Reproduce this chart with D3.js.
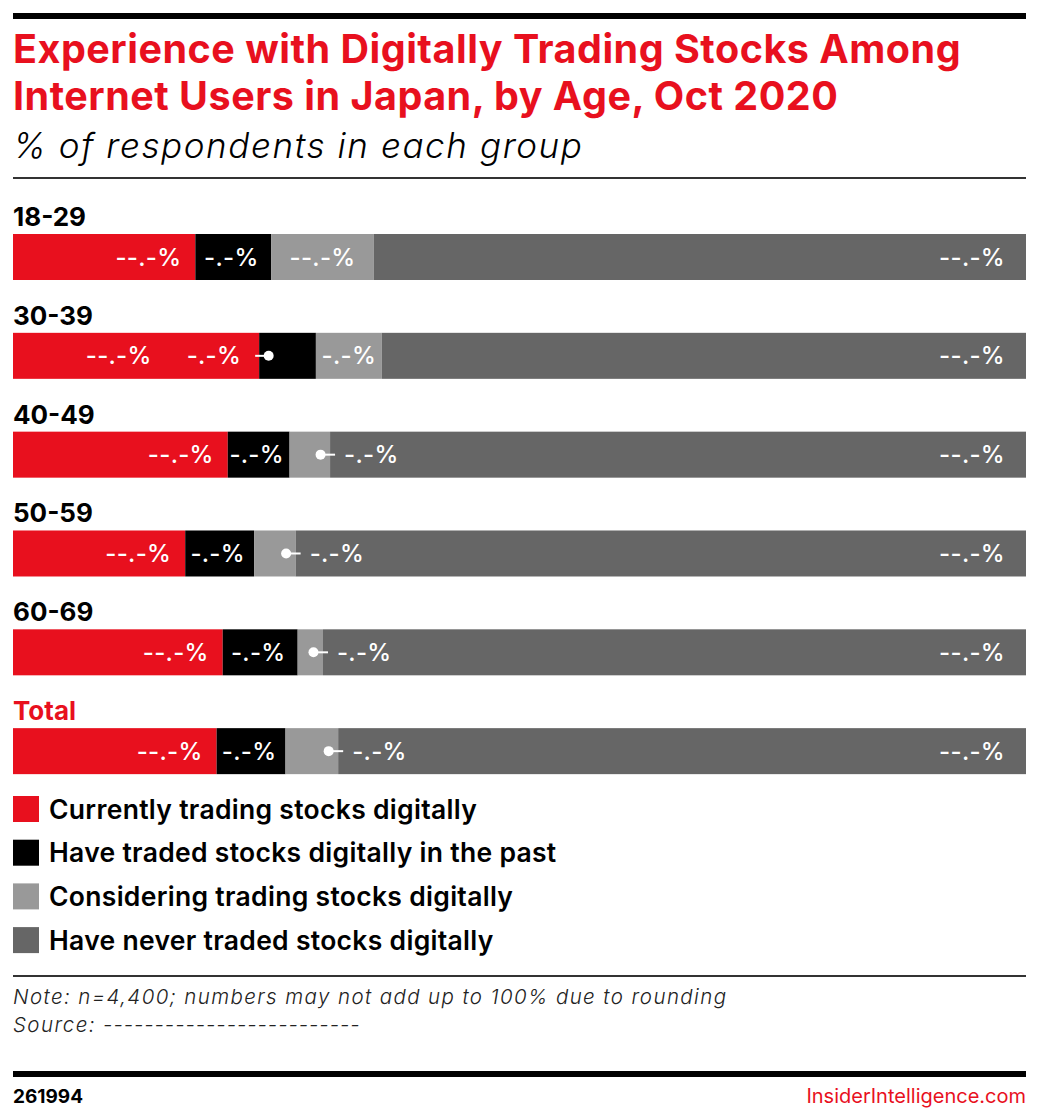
<!DOCTYPE html>
<html><head><meta charset="utf-8">
<script src="https://cdn.jsdelivr.net/npm/d3@7"></script>
<style>
html,body{margin:0;padding:0;background:#fff;}
svg{display:block;font-family:Inter, "Noto Sans", sans-serif;}
</style></head>
<body><svg id="c" width="1040" height="1120"></svg>
<script>
const categories = ["18-29","30-39","40-49","50-59","60-69","Total"];
const seriesNames = ["Currently trading stocks digitally","Have traded stocks digitally in the past","Considering trading stocks digitally","Have never traded stocks digitally"];
const current = [18.0, 24.3, 21.2, 17.0, 20.7, 20.1];
const past = [7.5, 5.6, 6.1, 6.8, 7.4, 6.8];
const considering = [10.1, 6.5, 4.0, 4.1, 2.5, 5.2];
const never = [64.4, 63.6, 68.7, 72.1, 69.4, 67.9];
const title = ["Experience with Digitally Trading Stocks Among","Internet Users in Japan, by Age, Oct 2020"];
const subtitle = "% of respondents in each group";
const note = "Note: n=4,400; numbers may not add up to 100% due to rounding";
const sourceLabel = "Source:";
const sourceText = "-------------------------";
const chartId = "261994";
const brand = "InsiderIntelligence.com";

const colors = ["#e8101e","#000000","#999999","#666666"];
const RED = "#e8101e";
const svg = d3.select("#c");
const L = 13, R = 1026;

// header
svg.append("rect").attr("x",L).attr("y",13).attr("width",R-L).attr("height",6).attr("fill","#000");
svg.selectAll("text.title").data(title).join("text").attr("class","title")
  .attr("x",L).attr("y",(d,i)=>63+i*47).attr("fill",RED)
  .attr("font-size",39.5).attr("font-weight",700).attr("letter-spacing",0.5).text(d=>d);
svg.append("text").attr("x",L).attr("y",158).attr("font-size",35).attr("font-style","italic")
  .attr("font-weight",300).attr("letter-spacing",1.6).attr("fill","#000").text(subtitle);
svg.append("rect").attr("x",L).attr("y",177).attr("width",R-L).attr("height",2).attr("fill","#333");

// data table
const rows = categories.map((c,i)=>({cat:c, vals:[current[i],past[i],considering[i],never[i]]}));
const x = d3.scaleLinear().domain([0,100]).range([L,R]);
const y = d3.scaleBand().domain(categories).range([186,186+98.83*6]).paddingInner(0);
const barOff = 48, barH = 46;

const g = svg.append("g");
const fmt = v => v >= 10 ? "--.-%" : "-.-%";
const LABEL_SIZE = 24;
const MIN_W = 58;

rows.forEach(r=>{
  const top = y(r.cat)+barOff, cy = top+barH/2;
  g.append("text").attr("x",L).attr("y",top-8).attr("font-size",26).attr("font-weight",700)
    .attr("fill", r.cat==="Total"?RED:"#000").text(r.cat);
  let acc = 0;
  const segs = r.vals.map((v,k)=>{const s={k,v,x0:x(acc),x1:x(acc+v)}; acc+=v; return s;});
  g.selectAll(null).data(segs).join("rect")
    .attr("x",d=>d.x0).attr("y",top).attr("width",d=>d.x1-d.x0).attr("height",barH)
    .attr("fill",d=>colors[d.k]);
  const lab = (xx,anchor,txt)=>g.append("text").attr("x",xx).attr("y",cy).attr("dy","0.36em")
    .attr("text-anchor",anchor).attr("font-size",LABEL_SIZE).attr("font-weight",500)
    .attr("letter-spacing",0.3).attr("fill","#fff").text(txt);
  const callout = (dotX, lineX)=>{
    g.append("line").attr("x1",dotX).attr("x2",lineX).attr("y1",cy).attr("y2",cy)
      .attr("stroke","#fff").attr("stroke-width",2);
    g.append("circle").attr("cx",dotX).attr("cy",cy).attr("r",5).attr("fill","#fff");
  };
  const [sr,sb,sl,sd] = segs;
  let redEnd = sr.x1 - 14;
  if (sb.x1 - sb.x0 < MIN_W) {
    const dotX = sb.x0 + 9.5;
    callout(dotX, sb.x0 - 4);
    const t = lab(sb.x0 - 18, "end", fmt(sb.v));
    const w = t.node().getComputedTextLength();
    redEnd = sb.x0 - 18 - w - 35;
  } else {
    lab((sb.x0+sb.x1)/2 - 2, "middle", fmt(sb.v));
  }
  lab(redEnd, "end", fmt(sr.v));
  if (sl.x1 - sl.x0 < MIN_W) {
    const dotX = sl.x1 - 9.5;
    callout(dotX, sl.x1 + 5);
    lab(sl.x1 + 14, "start", fmt(sl.v));
  } else {
    lab((sl.x0+sl.x1)/2, "middle", fmt(sl.v));
  }
  lab(sd.x1 - 21, "end", fmt(sd.v));
});

// legend
const lg = svg.append("g");
seriesNames.forEach((s,i)=>{
  const ty = 796 + i*43.7;
  lg.append("rect").attr("x",L).attr("y",ty).attr("width",26).attr("height",26).attr("fill",colors[i]);
  lg.append("text").attr("x",49).attr("y",ty+13).attr("dy","0.36em").attr("font-size",26.5)
    .attr("letter-spacing",0.3).attr("font-weight",600).attr("fill","#000").text(s);
});

// footer
svg.append("rect").attr("x",L).attr("y",975).attr("width",R-L).attr("height",2).attr("fill","#333");
svg.append("text").attr("x",L).attr("y",1004).attr("font-size",20.5).attr("font-style","italic")
  .attr("font-weight",300).attr("letter-spacing",1.4).attr("fill","#222").text(note);
const src = svg.append("text").attr("x",L).attr("y",1032).attr("font-size",20.5).attr("font-style","italic")
  .attr("font-weight",300).attr("fill","#222");
src.append("tspan").attr("letter-spacing",1.4).text(sourceLabel + " ");
src.append("tspan").attr("letter-spacing",1.0).text(sourceText);
svg.append("rect").attr("x",L).attr("y",1071).attr("width",R-L).attr("height",6).attr("fill","#000");
svg.append("text").attr("x",L).attr("y",1103).attr("font-size",19).attr("font-weight",700)
  .attr("fill","#000").text(chartId);
svg.append("text").attr("x",R).attr("y",1103).attr("text-anchor","end").attr("font-size",20)
  .attr("fill",RED).text(brand);
</script></body></html>
